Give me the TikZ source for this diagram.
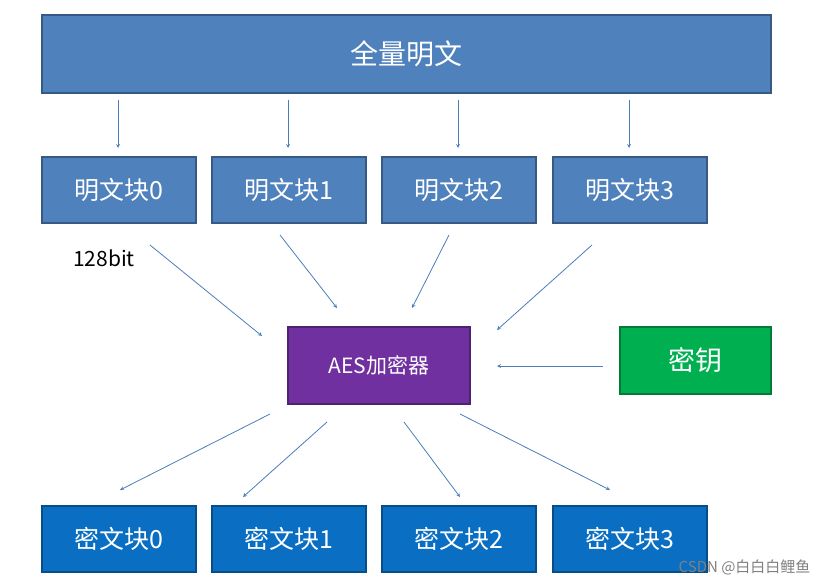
\documentclass[tikz,border=0pt]{standalone}
\usepackage{fontspec}
\setmainfont{Noto Sans CJK SC}
\begin{document}
\begin{tikzpicture}[x=1pt,y=-1pt,
 box/.style={draw=#1!70!black,line width=1.5pt,fill=#1,text=white,font=\fontsize{25}{30}\selectfont,inner sep=0pt},
 arr/.style={->,draw=ac,line width=0.8pt,>=stealth}]
\definecolor{b1}{HTML}{4F81BD}\definecolor{b2}{HTML}{0A6FC2}
\definecolor{pu}{HTML}{7030A0}\definecolor{gr}{HTML}{00B050}
\definecolor{ac}{HTML}{4A7EBB}
\useasboundingbox (0,0) rectangle (827,586);
\node[box=b1,minimum width=729pt,minimum height=78pt,font=\fontsize{28}{32}\selectfont] (all) at (406.5,54) {全量明文};
\foreach \i/\x in {0/119,1/289,2/459,3/630}{
 \node[box=b1,minimum width=154pt,minimum height=66pt] (p\i) at (\x,190) {明文块\i};
 \node[box=b2,minimum width=154pt,minimum height=66pt] (c\i) at (\x,539) {密文块\i};
 \coordinate (t\i) at (\x-1,100); \coordinate (u\i) at (\x-1,148);
 \draw[arr] (t\i) -- (u\i);}
\node[box=pu,minimum width=182pt,minimum height=77pt,font=\fontsize{21}{25}\selectfont] (aes) at (379,365.5) {AES加密器};
\node[box=gr,minimum width=151pt,minimum height=67pt,font=\fontsize{27}{30}\selectfont] (key) at (695.5,360.5) {密钥};
\node[font=\fontsize{21}{25}\selectfont] (bit) at (104,258) {128bit};
\coordinate (a0) at (150,245); \coordinate (b0) at (262,336);
\coordinate (a1) at (280,235); \coordinate (b1) at (337,308);
\coordinate (a2) at (449,235); \coordinate (b2) at (412,308);
\coordinate (a3) at (592,245); \coordinate (b3) at (497,330);
\coordinate (k0) at (603,366); \coordinate (k1) at (497,366);
\foreach \i in {0,...,3}{\draw[arr] (a\i) -- (b\i);}
\draw[arr] (k0) -- (k1);
\coordinate (d0) at (270,414); \coordinate (e0) at (120,490);
\coordinate (d1) at (327,422); \coordinate (e1) at (243,497);
\coordinate (d2) at (404,422); \coordinate (e2) at (460,497);
\coordinate (d3) at (460,414); \coordinate (e3) at (610,490);
\foreach \i in {0,...,3}{\draw[arr] (d\i) -- (e\i);}
\node[text=gray,font=\fontsize{15}{18}\selectfont,anchor=east] (wm) at (814,567) {CSDN @白白白鲤鱼};
\end{tikzpicture}
\end{document}
